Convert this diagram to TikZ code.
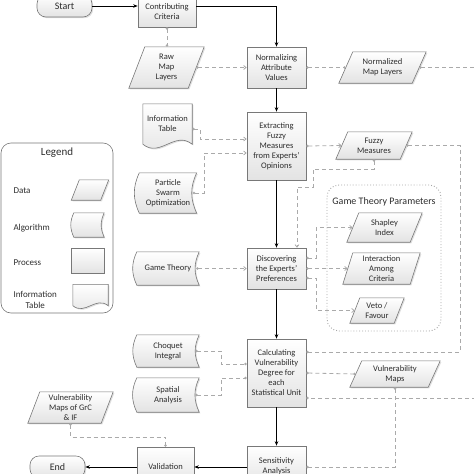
\documentclass[tikz,border=0pt]{standalone}
\usepackage{fontspec}
\setmainfont{Carlito}
\usetikzlibrary{arrows.meta,shadows,backgrounds,calc}
\definecolor{bordergray}{RGB}{120,120,120}
\definecolor{linegray}{RGB}{170,170,170}
\definecolor{txtgray}{RGB}{45,45,45}
\newcommand\algoshape[1]{\path[shp] (#1.north west) -- (#1.north east) to[bend right=25] (#1.south east) -- (#1.south west) to[bend left=25] (#1.north west) -- cycle;}
\newcommand\docshape[2]{\path[shp] (#1.north west) -- (#1.north east) -- (#1.south east) .. controls ($(#1.south east)!0.35!(#1.south west)+(0pt,#2)$) and ($(#1.south east)!0.65!(#1.south west)-(0pt,#2)$) .. (#1.south west) -- cycle;}
\newcommand\datashape[2]{\path[shp] ([xshift=-#2]#1.south west) -- ([xshift=-#2]#1.south east) -- ([xshift=#2]#1.north east) -- ([xshift=#2]#1.north west) -- cycle;}
\tikzset{
  every node/.style={font=\fontsize{8.5}{10}\selectfont, text=txtgray},
  shp/.style={draw=bordergray, line width=0.6pt, top color=white, bottom color=gray!22,
    drop shadow={opacity=0.25, shadow xshift=1.2pt, shadow yshift=-1.2pt}},
  box/.style={shp, rectangle, minimum width=59pt, align=center, inner sep=1pt},
  term/.style={shp, rectangle, rounded corners=9pt, align=center, font=\fontsize{10}{12}\selectfont},
  txt/.style={rectangle, align=center, inner sep=0pt},
  arr/.style={draw=black, line width=0.7pt, -{Stealth[length=4.5pt,width=3.5pt]}},
  dline/.style={draw=linegray, line width=0.8pt, dash pattern=on 4pt off 3pt},
  dcon/.style={dline, {Circle[open,length=2.5pt]}-{Circle[open,length=2.5pt]}},
  darr/.style={dline, {Circle[open,length=2.5pt]}-{Straight Barb[length=2.5pt,width=4pt]}},
  grp/.style={draw=gray!70, dotted, line width=0.9pt, rounded corners=12pt},
}
\begin{document}
\begin{tikzpicture}[x=1pt,y=-1pt]
\useasboundingbox (0,0) rectangle (474,474);
\clip (0,0) rectangle (474,474);

% main chain
\node[term, minimum width=55pt, minimum height=22pt] (start) at (64.5,6) {Start};
\node[box, minimum width=58pt, minimum height=30pt] (crit) at (167,12) {Contributing\\Criteria};
\node[box, minimum height=41pt] (norm) at (276.5,67.5) {Normalizing\\Attribute\\Values};
\node[txt, minimum width=59pt, minimum height=41pt] (raw) at (166.5,67.5) {Raw\\Map\\Layers};
\node[txt, minimum width=73pt, minimum height=31pt] (nml) at (382.5,67.5) {Normalized\\Map Layers};
\node[box, minimum height=68pt] (extr) at (276.5,146) {Extracting\\Fuzzy\\Measures\\from Experts'\\Opinions};
\node[txt, minimum width=49pt, minimum height=40pt] (info) at (167.5,124) {Information\\Table};
\node[txt, minimum width=57pt, minimum height=40pt] (pso) at (168,193) {Particle\\Swarm\\Optimization};
\node[txt, minimum width=64pt, minimum height=27pt] (fuzzy) at (374,145.5) {Fuzzy\\Measures};
\node[box, minimum height=41pt] (disc) at (276.5,268.5) {Discovering\\the Experts'\\Preferences};
\node[txt, minimum width=62pt, minimum height=33pt] (gt) at (168,268.5) {Game Theory};

% game theory parameters group
\node[grp, minimum width=114pt, minimum height=146pt] (gtp) at (384,258) {};
\node[font=\fontsize{10}{12}\selectfont] (gtpt) at (384,202) {Game Theory Parameters};
\node[txt, minimum width=63pt, minimum height=29pt] (shap) at (384.5,227.5) {Shapley\\Index};
\node[txt, minimum width=67pt, minimum height=31pt] (inter) at (381.5,268.5) {Interaction\\Among\\Criteria};
\node[txt, minimum width=44pt, minimum height=25pt] (veto) at (377,310.5) {Veto /\\Favour};

\node[box, minimum height=68pt] (calc) at (276.5,373) {Calculating\\Vulnerability\\Degree for\\each\\Statistical Unit};
\node[txt, minimum width=62pt, minimum height=32pt] (choq) at (168,351) {Choquet\\Integral};
\node[txt, minimum width=62pt, minimum height=34pt] (spat) at (168,395) {Spatial\\Analysis};
\node[txt, minimum width=78pt, minimum height=26pt] (vm) at (395,374) {Vulnerability\\Maps};
\node[txt, minimum width=73pt, minimum height=31pt] (vmg) at (70.5,407.5) {Vulnerability\\Maps of GrC\\\& IF};
\node[box, minimum height=40pt] (sens) at (276.5,466) {Sensitivity\\Analysis};
\node[box, minimum width=57pt, minimum height=40pt] (valid) at (165.5,467) {Validation};
\node[term, minimum width=55pt, minimum height=22pt] (endn) at (57.5,467) {End};

% legend
\node[draw=bordergray, line width=0.6pt, rounded corners=10pt, minimum width=112pt, minimum height=170pt] (leg) at (57,228) {};
\node[font=\fontsize{11}{13}\selectfont] (legt) at (57,153) {Legend};
\node[anchor=west, font=\fontsize{9}{11}\selectfont] (ldata) at (10,191) {Data};
\node[anchor=west, font=\fontsize{9}{11}\selectfont] (lalgo) at (10,228) {Algorithm};
\node[anchor=west, font=\fontsize{9}{11}\selectfont] (lproc) at (10,263) {Process};
\node[anchor=west, align=center, font=\fontsize{9}{11}\selectfont] (linfo) at (10,300) {Information\\Table};
\node[txt, minimum width=29pt, minimum height=20pt] (sdata) at (90,190) {};
\node[txt, minimum width=30pt, minimum height=24pt] (salgo) at (89,225) {};
\node[box, minimum width=33pt, minimum height=25pt] (sproc) at (87.5,260.5) {};
\node[txt, minimum width=35pt, minimum height=21pt] (sinfo) at (90.5,295) {};

\begin{scope}[on background layer]
  \docshape{info}{14pt}
  \docshape{sinfo}{10pt}
  \algoshape{pso}
  \algoshape{gt}
  \algoshape{choq}
  \algoshape{spat}
  \algoshape{salgo}
  \datashape{raw}{8pt}
  \datashape{nml}{7pt}
  \datashape{fuzzy}{6pt}
  \datashape{shap}{6pt}
  \datashape{inter}{5pt}
  \datashape{veto}{5pt}
  \datashape{vm}{6pt}
  \datashape{vmg}{6pt}
  \datashape{sdata}{4pt}
\end{scope}

% solid flow
\draw[arr] (start.east) -- (crit.west |- start.east);
\draw[arr] (crit.east |- start.east) -| (norm.north);
\draw[arr] (norm) -- (extr);
\draw[arr] (extr) -- (disc);
\draw[arr] (disc) -- (calc);
\draw[arr] (calc) -- (sens);
\draw[arr] (sens.west |- valid.east) -- (valid.east);
\draw[arr] (valid) -- (endn);

% dashed data links
\coordinate (rA) at (490,67.5);
\coordinate (iA) at (200,139);
\coordinate (pA) at (204,153);
\coordinate (fA) at (460,145.5);
\coordinate (fB) at (313,169);
\coordinate (fC) at (297,187);
\draw[dcon] (crit.south) -- (crit.south |- raw.north);
\draw[darr] (raw.east) -- (norm.west);
\draw[dcon] (norm.east) -- (nml.west);
\draw[dcon] (nml.east) -- (nml.east -| rA) |- ([yshift=-25pt]calc.east);
\draw[darr] ([yshift=-5pt]info.east) -| (iA) -- ([yshift=7pt]extr.west);
\draw[darr] ([xshift=-4pt]pso.east) -| (pA) -- ([yshift=-7pt]extr.west);
\draw[darr] (extr.east) -- (fuzzy.west);
\draw[dcon] (fuzzy.east) -- (fA) |- ([yshift=21pt]calc.east);
\draw[darr] (fuzzy.south) |- (fB) |- (fC) -- ([xshift=20.5pt]disc.north);
\draw[darr] ([xshift=-3pt]gt.east) -- (disc.west);
\draw[darr] ([yshift=10.5pt]disc.east) -- ++(10,0) |- (shap.west);
\draw[darr] (disc.east) -- (inter.west);
\draw[darr] ([yshift=-9.5pt]disc.east) -- ++(10,0) |- (veto.west);
\draw[dcon] ([xshift=-4pt]choq.east) -- ++(26,0) |- ([yshift=9pt]calc.west);
\draw[dcon] ([xshift=-4pt]spat.east) -- ++(26,0) |- ([yshift=-5pt]calc.west);
\draw[dcon] (calc.east) -- (vm.west);
\draw[dcon] (vm.south) |- ([yshift=-1pt]sens.east);
\draw[dcon] (vmg.south) -- ++(0,14) -| (valid.north);
\end{tikzpicture}
\end{document}
